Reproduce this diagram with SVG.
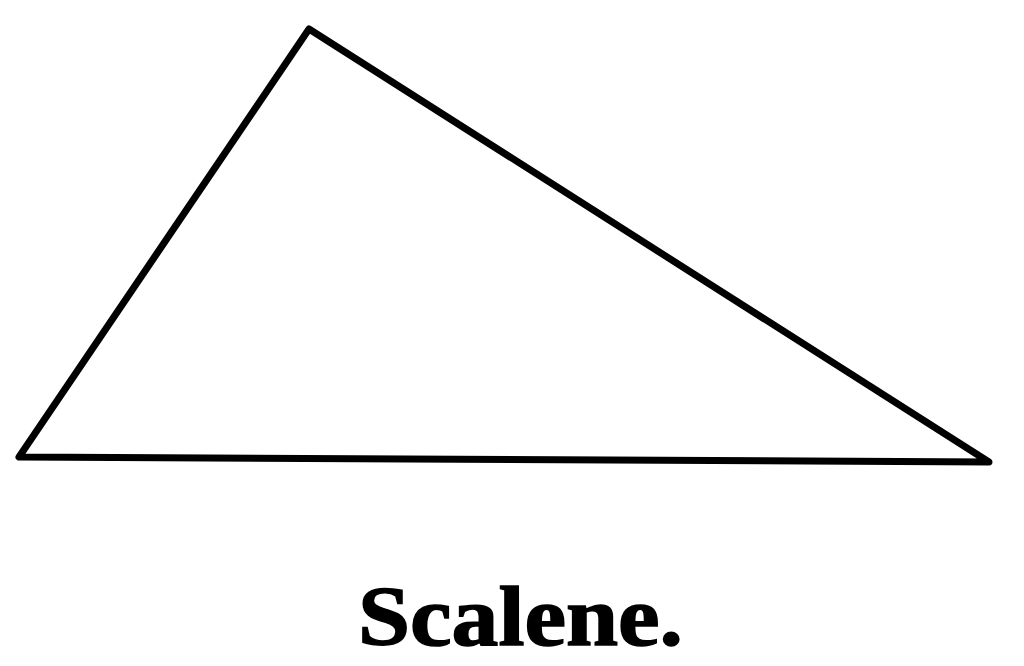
<svg xmlns="http://www.w3.org/2000/svg" width="1024" height="666" viewBox="0 0 1024 666">
<style>
.edge{fill:none;stroke:#000;stroke-width:7;stroke-linejoin:round;stroke-linecap:round}
.label{font-family:"Liberation Serif","Times New Roman",serif;font-weight:bold;fill:#000;stroke:#000;stroke-width:1.5}
</style>
<rect width="1024" height="666" fill="#fff"/>
<g id="triangle">
<polygon class="edge" points="309,29 19,457 989,462"/>
</g>
<g id="caption">
<text class="label" x="358" y="645" font-size="84" textLength="325" lengthAdjust="spacingAndGlyphs">Scalene.</text>
</g>
</svg>
